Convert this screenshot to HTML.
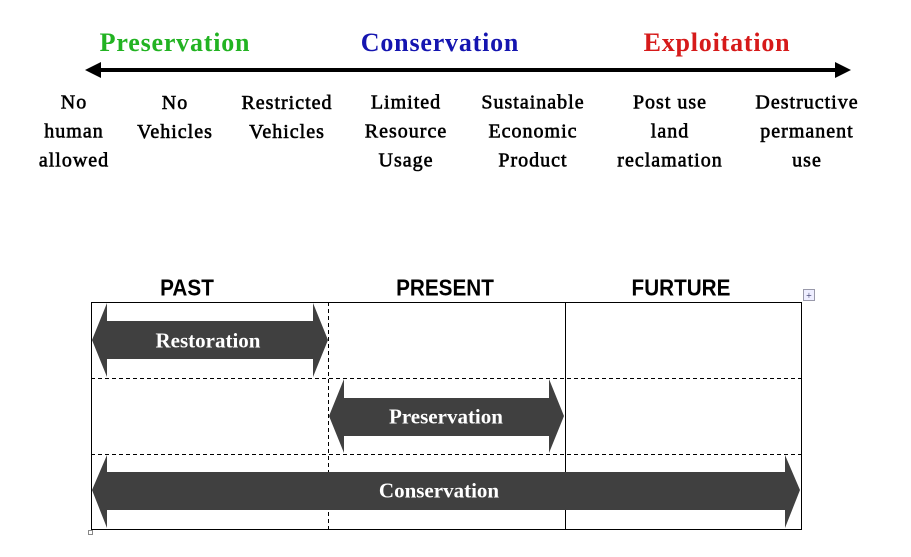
<!DOCTYPE html>
<html><head><style>
body{margin:0;background:#fff;width:911px;height:557px;overflow:hidden;position:relative}
.t{position:absolute;transform:translate(-50%,-50%);white-space:nowrap;text-align:center}
.h{font:bold 26px "Liberation Serif",serif;letter-spacing:0.8px}
.w{font:20px/29px "Liberation Serif",serif;color:#000;letter-spacing:1px;-webkit-text-stroke:0.6px #000}
.p{font:bold 23px "Liberation Sans",sans-serif;transform:translate(-50%,-50%) scaleX(0.9)}
.a{font:bold 21px "Liberation Serif",serif;color:#fff}
</style></head><body>
<svg width="911" height="557" style="position:absolute;left:0;top:0">
<line x1="98" y1="70" x2="838" y2="70" stroke="#000" stroke-width="4"/>
<polygon points="85,70 101,62 101,78" fill="#000"/>
<polygon points="851,70 835,62 835,78" fill="#000"/>
<rect x="91.5" y="302.5" width="710" height="227" fill="none" stroke="#000" stroke-width="1"/>
<line x1="565.5" y1="302" x2="565.5" y2="529" stroke="#000"/>
<line x1="328.5" y1="302" x2="328.5" y2="529" stroke="#000" stroke-dasharray="4,3"/>
<line x1="91" y1="378.5" x2="801" y2="378.5" stroke="#000" stroke-dasharray="4,3"/>
<line x1="91" y1="454.5" x2="801" y2="454.5" stroke="#000" stroke-dasharray="4,3"/>
<g fill="#404040">
<polygon points="92,340 107,303 107,321 313,321 313,303 328,340 313,377 313,359 107,359 107,377"/>
<polygon points="329,416 344,379 344,398 549,398 549,379 564,416 549,453 549,436 344,436 344,453"/>
<polygon points="92,490 107,455 107,472 785,472 785,455 800,490 785,528 785,510 107,510 107,528"/>
</g>
<rect x="803.5" y="289.5" width="11" height="11" fill="#eef" stroke="#99a"/>
<text x="809" y="299" font-size="10" text-anchor="middle" fill="#336">+</text>
<rect x="88.5" y="530.5" width="4" height="4" fill="none" stroke="#888"/>
</svg>
<div class="t h" style="left:175px;top:43px;color:#22b322">Preservation</div>
<div class="t h" style="left:440px;top:43px;color:#1515b0">Conservation</div>
<div class="t h" style="left:717px;top:43px;color:#d61a1a">Exploitation</div>
<div class="t w" style="left:74px;top:132px">No<br>human<br>allowed</div>
<div class="t w" style="left:175px;top:118px">No<br>Vehicles</div>
<div class="t w" style="left:287px;top:118px">Restricted<br>Vehicles</div>
<div class="t w" style="left:406px;top:132px">Limited<br>Resource<br>Usage</div>
<div class="t w" style="left:533px;top:132px">Sustainable<br>Economic<br>Product</div>
<div class="t w" style="left:670px;top:132px">Post use<br>land<br>reclamation</div>
<div class="t w" style="left:807px;top:132px">Destructive<br>permanent<br>use</div>
<div class="t p" style="left:187px;top:288px">PAST</div>
<div class="t p" style="left:445px;top:288px">PRESENT</div>
<div class="t p" style="left:681px;top:288px">FURTURE</div>
<div class="t a" style="left:208px;top:341px">Restoration</div>
<div class="t a" style="left:446px;top:417px">Preservation</div>
<div class="t a" style="left:439px;top:491px">Conservation</div>
</body></html>
